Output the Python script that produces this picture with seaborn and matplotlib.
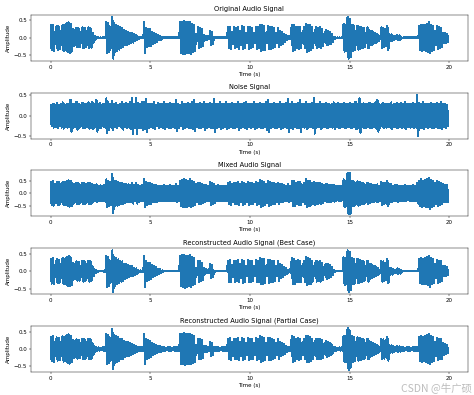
import numpy as np
import pandas as pd
import matplotlib
matplotlib.use("Agg")
import matplotlib.pyplot as plt
import seaborn as sns

# -----------------------------
# Step 1: Envelope values (amplitude every 0.1 s, 0-20 s)
# -----------------------------
original_env = [
    .36, .38, .18, .35, .33, .20, .38, .36, .42, .44,
    .40, .25, .22, .28, .27, .16, .30, .28, .20, .30,
    .29, .15, .06, .02, .01, .01, .01, .02, .45, .42,
    .30, .60, .42, .38, .34, .30, .28, .22, .20, .18,
    .15, .14, .10, .08, .03, .02, .02, .45, .28, .25,
    .24, .18, .14, .12, .07, .06, .02, .01, .01, .01,
    .01, .01, .01, .01, .01, .44, .46, .48, .45, .44,
    .46, .40, .38, .10, .30, .28, .25, .08, .06, .04,
    .20, .18, .02, .01, .01, .01, .01, .01, .01, .30,
    .32, .18, .30, .28, .32, .20, .33, .30, .15, .32,
    .30, .28, .15, .32, .30, .38, .36, .34, .15, .33,
    .32, .30, .28, .15, .28, .20, .18, .12, .08, .04,
    .05, .38, .36, .30, .32, .30, .15, .30, .40, .38,
    .36, .30, .15, .30, .28, .30, .25, .12, .22, .20,
    .18, .12, .03, .01, .01, .01, .01, .40, .38, .60,
    .55, .38, .36, .20, .35, .32, .30, .28, .15, .30,
    .22, .20, .16, .14, .10, .04, .30, .28, .25, .35,
    .10, .10, .06, .04, .08, .07, .02, .01, .01, .01,
    .01, .01, .01, .01, .01, .35, .38, .36, .38, .40,
    .45, .38, .35, .20, .33, .30, .28, .15, .14, .12,
]

noise_env = [
    .26, .30, .28, .32, .27, .30, .33, .28, .30, .29,
    .40, .30, .28, .35, .30, .27, .32, .30, .28, .33,
    .30, .34, .28, .40, .30, .32, .28, .30, .43, .35,
    .30, .36, .29, .32, .27, .30, .35, .28, .31, .30,
    .34, .45, .30, .45, .32, .30, .35, .33, .42, .30,
    .28, .30, .33, .27, .31, .29, .30, .34, .28, .30,
    .32, .28, .30, .38, .30, .27, .33, .30, .29, .31,
    .30, .33, .38, .29, .30, .32, .28, .35, .30, .28,
    .31, .30, .42, .30, .28, .33, .30, .29, .34, .30,
    .28, .32, .30, .29, .35, .30, .28, .31, .33, .29,
    .30, .28, .34, .30, .29, .32, .30, .28, .35, .40,
    .30, .28, .32, .30, .29, .33, .30, .28, .31, .42,
    .30, .33, .29, .30, .32, .40, .28, .30, .34, .30,
    .29, .31, .45, .30, .28, .33, .30, .29, .32, .30,
    .28, .30, .33, .29, .31, .30, .28, .32, .30, .29,
    .31, .30, .28, .34, .30, .43, .29, .31, .30, .28,
    .32, .30, .29, .33, .40, .30, .28, .31, .30, .29,
    .30, .33, .28, .30, .32, .29, .31, .30, .34, .28,
    .30, .29, .32, .30, .52, .31, .30, .33, .29, .30,
    .28, .32, .30, .29, .31, .30, .33, .28, .30, .27,
]

mixed_env = [
    .45, .48, .38, .45, .44, .36, .46, .45, .50, .52,
    .50, .40, .36, .42, .40, .34, .42, .40, .36, .42,
    .42, .35, .32, .36, .30, .32, .30, .33, .55, .50,
    .45, .78, .50, .48, .45, .42, .42, .38, .36, .35,
    .34, .40, .32, .40, .33, .30, .32, .55, .45, .40,
    .40, .36, .34, .33, .30, .30, .30, .32, .30, .30,
    .32, .30, .30, .35, .30, .50, .52, .55, .52, .50,
    .55, .48, .46, .35, .42, .40, .38, .34, .32, .30,
    .45, .40, .38, .30, .32, .30, .29, .31, .30, .42,
    .44, .35, .42, .40, .44, .36, .45, .42, .35, .44,
    .42, .40, .35, .45, .42, .52, .48, .46, .38, .48,
    .45, .42, .40, .35, .40, .36, .35, .32, .30, .35,
    .30, .50, .48, .42, .45, .45, .35, .42, .55, .50,
    .48, .42, .45, .42, .40, .42, .38, .32, .36, .35,
    .34, .32, .33, .29, .31, .30, .28, .55, .50, .82,
    .80, .50, .48, .40, .48, .45, .42, .40, .34, .42,
    .38, .36, .34, .33, .35, .30, .45, .42, .40, .50,
    .35, .36, .30, .32, .34, .30, .31, .30, .32, .28,
    .30, .29, .32, .30, .40, .50, .55, .50, .52, .55,
    .62, .52, .50, .40, .48, .45, .42, .35, .33, .32,
]

# best case reconstruction looks the same as the original in the picture
best_env = list(original_env)

partial_env = [
    .36, .38, .20, .35, .34, .22, .38, .36, .42, .44,
    .40, .27, .24, .29, .28, .18, .30, .29, .22, .31,
    .30, .17, .08, .05, .05, .04, .05, .06, .45, .43,
    .32, .60, .43, .38, .35, .31, .29, .23, .22, .20,
    .17, .15, .12, .10, .06, .05, .05, .45, .29, .26,
    .25, .19, .15, .13, .09, .08, .05, .05, .04, .05,
    .05, .04, .05, .05, .06, .44, .46, .48, .46, .44,
    .46, .41, .39, .12, .31, .29, .26, .10, .08, .07,
    .21, .19, .06, .05, .05, .04, .05, .05, .05, .31,
    .32, .20, .30, .29, .32, .22, .33, .31, .17, .32,
    .31, .29, .17, .32, .31, .38, .36, .34, .17, .34,
    .32, .30, .28, .17, .29, .21, .19, .14, .09, .06,
    .07, .38, .36, .31, .32, .30, .17, .31, .40, .38,
    .36, .31, .17, .31, .29, .30, .26, .14, .23, .21,
    .19, .14, .06, .05, .04, .05, .05, .40, .38, .62,
    .56, .39, .37, .22, .35, .33, .31, .29, .17, .31,
    .23, .21, .17, .15, .12, .07, .31, .29, .26, .35,
    .12, .11, .08, .06, .09, .08, .05, .05, .04, .05,
    .05, .04, .05, .05, .06, .35, .38, .37, .38, .41,
    .45, .39, .36, .21, .34, .31, .29, .17, .15, .13,
]

titles = [
    "Original Audio Signal",
    "Noise Signal",
    "Mixed Audio Signal",
    "Reconstructed Audio Signal (Best Case)",
    "Reconstructed Audio Signal (Partial Case)",
]
envelopes = [original_env, noise_env, mixed_env, best_env, partial_env]


# -----------------------------
# Step 2: Turn an envelope into a min/max waveform trace
# -----------------------------
def waveform_frame(env):
    amp = np.repeat(np.asarray(env, dtype=float), 2)
    sign = np.tile([1.0, -1.0], len(env))
    time = np.arange(len(amp)) * 0.05
    return pd.DataFrame({"time": time, "amp": amp * sign})


# -----------------------------
# Step 3: Plot
# -----------------------------
fig, axes = plt.subplots(5, 1, figsize=(12, 10))

for ax, env, title in zip(axes, envelopes, titles):
    df = waveform_frame(env)
    sns.lineplot(data=df, x="time", y="amp", estimator=None, sort=False,
                 color="#1f77b4", linewidth=1.9, antialiased=False, ax=ax)
    ax.set_title(title)
    ax.set_xlabel("Time (s)")
    ax.set_ylabel("Amplitude")
    ax.set_xticks([0, 5, 10, 15, 20])
    ax.set_yticks([-0.5, 0.0, 0.5])

plt.tight_layout()
fig.text(0.995, 0.006, "CSDN @牛广硕", ha="right", va="bottom", fontsize=19,
         color="#bdbdbd", family=["Noto Sans CJK SC", "DejaVu Sans"])
plt.savefig("out.png", dpi=39.5)
